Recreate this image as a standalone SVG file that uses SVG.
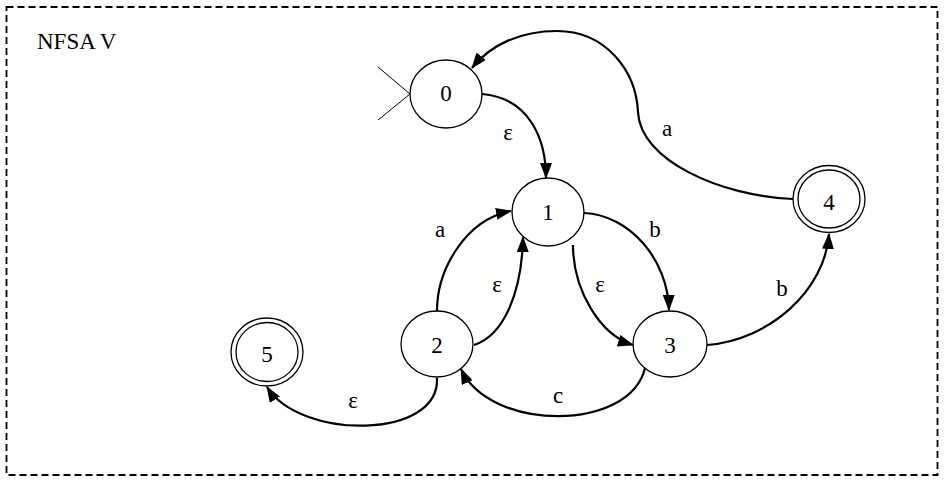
<svg xmlns="http://www.w3.org/2000/svg" width="945" height="483" viewBox="0 0 945 483">
<style>
.st{fill:#fff;stroke:#000;stroke-width:1.3}
.lb{font-family:"Liberation Serif","Times New Roman","DejaVu Serif",serif;font-size:23px;fill:#000;text-anchor:middle}
.ttl{font-family:"Liberation Serif","Times New Roman","DejaVu Serif",serif;font-size:23px;fill:#000}
.ed{fill:none;stroke:#000;stroke-width:2.2;marker-end:url(#ah)}
</style>
<defs>
<marker id="ah" markerUnits="userSpaceOnUse" markerWidth="16" markerHeight="12" viewBox="0 0 16 12" refX="15" refY="6" orient="auto">
<path d="M0,0 L16,6 L0,12 Z" fill="#000"/>
</marker>
</defs>
<rect x="6.5" y="7" width="931" height="468" fill="#fff" stroke="#000" stroke-width="1.8" stroke-dasharray="7,4"/>
<text class="ttl" x="37" y="49">NFSA V</text>
<g id="edges">
<path class="ed" d="M482,94 C530,98 546,140 546,178"/>
<path class="ed" d="M584,213 C630,215 668,260 669,310"/>
<path class="ed" d="M573,245 C573,290 600,335 633,345"/>
<path class="ed" d="M437,311 C437,270 465,220 511,211"/>
<path class="ed" d="M474,345 C505,335 522,290 523,237"/>
<path class="ed" d="M645,368 C630,432 490,432 461,369"/>
<path class="ed" d="M437,378 C440,440 300,440 267,387"/>
<path class="ed" d="M707,345 C770,340 825,290 829,234"/>
<path class="ed" d="M793,199 C720,196 640,160 638,112 C636,70 605,31 557,31 C520,31 490,45 472,68"/>
<line x1="378" y1="67" x2="410" y2="94" stroke="#000" stroke-width="1"/>
<line x1="378" y1="120" x2="410" y2="94" stroke="#000" stroke-width="1"/>
</g>
<g id="edge-labels">
<text class="lb" x="508" y="140">ε</text>
<text class="lb" x="655" y="237">b</text>
<text class="lb" x="600" y="292">ε</text>
<text class="lb" x="440" y="237">a</text>
<text class="lb" x="497" y="292">ε</text>
<text class="lb" x="558" y="403">c</text>
<text class="lb" x="353" y="408">ε</text>
<text class="lb" x="782" y="296">b</text>
<text class="lb" x="667" y="136">a</text>
</g>
<g id="node0"><ellipse class="st" cx="446" cy="94" rx="36" ry="34"/><text class="lb" x="446" y="101">0</text></g>
<g id="node1"><ellipse class="st" cx="548" cy="212" rx="36" ry="34"/><text class="lb" x="548" y="220">1</text></g>
<g id="node2"><ellipse class="st" cx="437" cy="344" rx="36" ry="33"/><text class="lb" x="437" y="353">2</text></g>
<g id="node3"><ellipse class="st" cx="670" cy="344" rx="37" ry="33"/><text class="lb" x="670" y="353">3</text></g>
<g id="node4"><ellipse class="st" cx="829" cy="199" rx="36" ry="33.5"/><ellipse class="st" cx="829" cy="199" rx="31" ry="29"/><text class="lb" x="829" y="210">4</text></g>
<g id="node5"><ellipse class="st" cx="267" cy="352" rx="36" ry="34"/><ellipse class="st" cx="267" cy="352" rx="31" ry="29.5"/><text class="lb" x="267" y="362">5</text></g>
</svg>
